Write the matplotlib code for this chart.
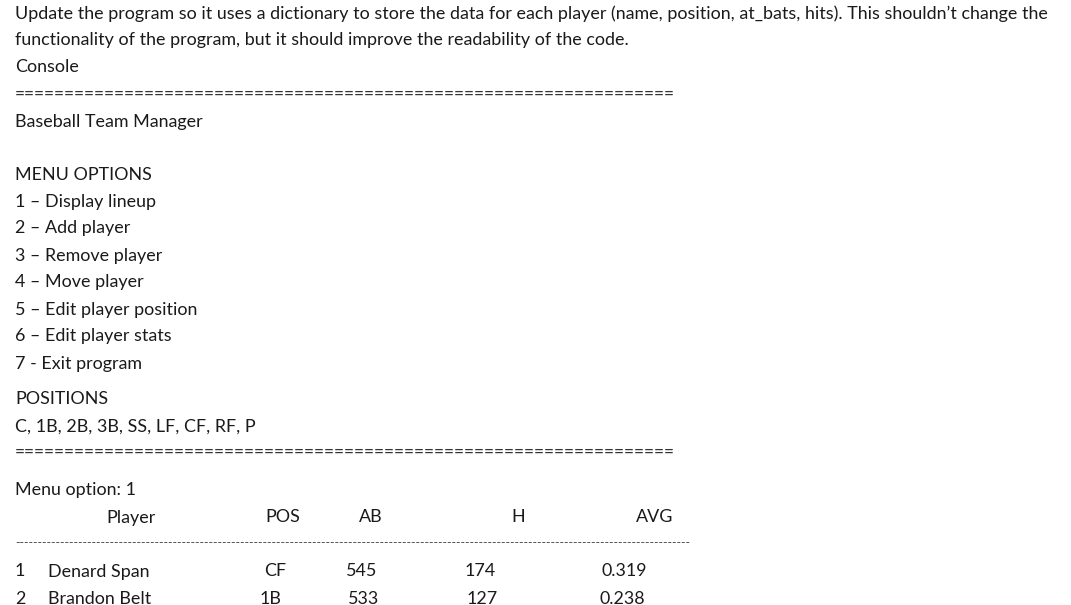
import matplotlib.pyplot as plt

# text lines of the console screenshot: (y centre, text)
intro = [
    (12, "Update the program so it uses a dictionary to store the data for each player (name, position, at_bats, hits). This shouldn\u2019t change the"),
    (39, "functionality of the program, but it should improve the readability of the code."),
    (66, "Console"),
]
menu_lines = [
    (120, "Baseball Team Manager"),
    (173, "MENU OPTIONS"),
    (200, "1 \u2013 Display lineup"),
    (227, "2 \u2013 Add player"),
    (254, "3 \u2013 Remove player"),
    (281, "4 \u2013 Move player"),
    (308, "5 \u2013 Edit player position"),
    (335, "6 \u2013 Edit player stats"),
    (362, "7 - Exit program"),
    (398, "POSITIONS"),
    (425, "C, 1B, 2B, 3B, SS, LF, CF, RF, P"),
    (489, "Menu option: 1"),
]
sep_rows = [94, 452]

headers = ["Player", "POS", "AB", "H", "AVG"]
header_x = [131, 283, 371, 518, 655]

players = [
    ("1", "Denard Span", "CF", "545", "174", "0.319"),
    ("2", "Brandon Belt", "1B", "533", "127", "0.238"),
]
row_y = [570, 597]
col_x = [[275, 362, 480, 624], [270, 364, 482, 622]]

plt.rcParams['font.family'] = ['Lato', 'DejaVu Sans']
fig = plt.figure(figsize=(10.71, 6.05), dpi=100)
ax = fig.add_axes([0, 0, 1, 1])
ax.set_xlim(0, 1071)
ax.set_ylim(605, 0)
ax.axis('off')

fs = 12.9
dy = 1.5
for y, t in intro + menu_lines:
    ax.text(15, y + dy, t, fontsize=fs, va='center', color='#1a1a1a')

for y in sep_rows:
    ax.text(15, y, "=" * 66, fontsize=12.5, va='center', color='#333333')

for h, x in zip(headers, header_x):
    ax.text(x, 516 + dy, h, fontsize=fs, va='center', ha='center', color='#1a1a1a')
ax.text(15, 543, "-" * 150, fontsize=8.8, va='center', color='#333333')

for y, p, xs in zip(row_y, players, col_x):
    ax.text(15, y + dy, p[0], fontsize=fs, va='center', color='#1a1a1a')
    ax.text(48, y + dy, p[1], fontsize=fs, va='center', color='#1a1a1a')
    for v, x in zip(p[2:], xs):
        ax.text(x, y + dy, v, fontsize=fs, va='center', ha='center', color='#1a1a1a')

fig.savefig("out.png", dpi=100, facecolor='white')
